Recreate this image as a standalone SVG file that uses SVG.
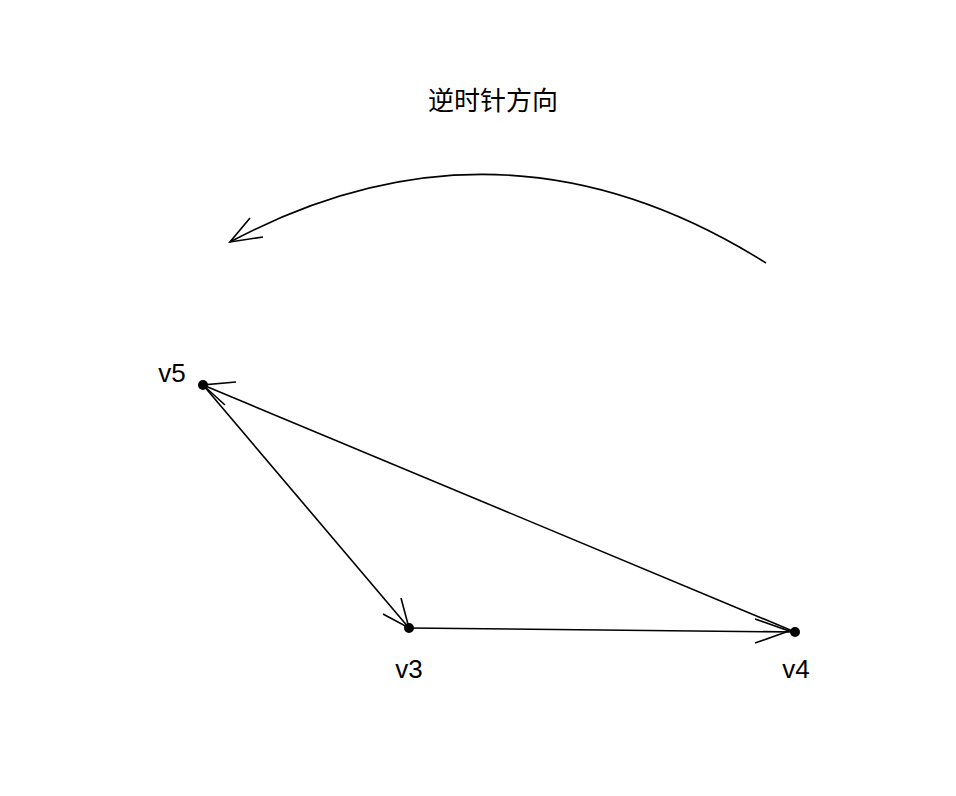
<svg xmlns="http://www.w3.org/2000/svg" width="956" height="796" viewBox="0 0 956 796">
<style>
.l{fill:none;stroke:#000;stroke-width:1.6}
.t{font-family:"Liberation Sans","Noto Sans CJK SC",sans-serif;font-size:26px;fill:#000}
</style>
<rect width="956" height="796" fill="#fff"/>
<text class="t" x="493" y="110" text-anchor="middle" font-size="28">逆时针方向</text>
<g id="connectors">
<path class="l" d="M766,263 Q502,97 230,242"/>
<polyline class="l" points="250,218 230,242 263,237"/>
<line class="l" x1="795" y1="632" x2="203" y2="385"/>
<polyline class="l" points="236,382 203,385 225,405"/>
<line class="l" x1="203" y1="385" x2="409" y2="628"/>
<polyline class="l" points="383,614 409,628 401,598"/>
<line class="l" x1="409" y1="628" x2="795" y2="632"/>
<polyline class="l" points="755,619 789,631 755,643"/>
</g>
<g id="v5"><circle cx="203" cy="385" r="5"/><text class="t" x="172" y="382" text-anchor="middle">v5</text></g>
<g id="v3"><circle cx="409" cy="628" r="5"/><text class="t" x="409" y="678" text-anchor="middle">v3</text></g>
<g id="v4"><circle cx="795" cy="632" r="5"/><text class="t" x="796" y="678" text-anchor="middle">v4</text></g>
</svg>
